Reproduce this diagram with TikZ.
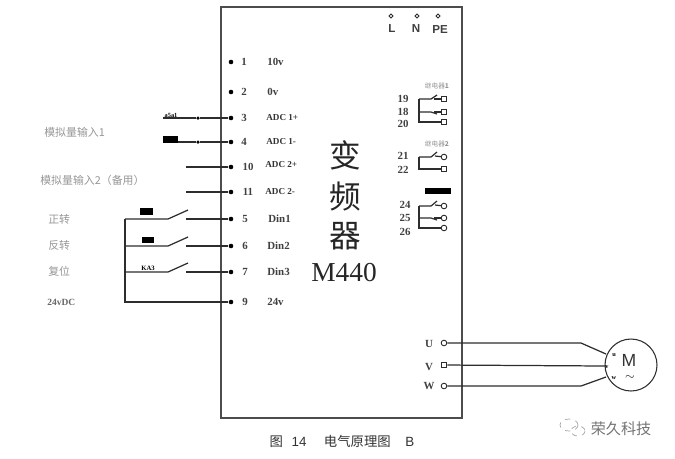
\documentclass[tikz,border=0pt]{standalone}
\usepackage{fontspec}
\setmainfont{Liberation Serif}
\setsansfont{Liberation Sans}
\newfontfamily\cjk{Noto Sans CJK SC}
\usetikzlibrary{arrows}
\definecolor{wirecolor}{RGB}{45, 45, 45}
\definecolor{labelgray}{RGB}{150, 150, 150}
\tikzset{
    wire/.style={color=wirecolor, line width=0.7pt},
    pin/.style={circle, fill=black, inner sep=0pt, minimum size=2.6pt},
    openpin/.style={rectangle, draw=wirecolor, fill=white, line width=0.5pt, inner sep=0pt, minimum size=3.2pt},
    toppin/.style={circle, draw=wirecolor, fill=white, line width=0.5pt, inner sep=0pt, minimum size=2.2pt},
    tinydot/.style={circle, fill=black, inner sep=0pt, minimum size=2pt},
    blockout/.style={fill=black, draw=none},
    termtext/.style={font=\fontsize{6.2}{7}\selectfont\bfseries, text=black!75, inner sep=0pt},
    adctext/.style={font=\fontsize{5.2}{6}\selectfont\bfseries, text=black!80, inner sep=0pt},
    sidetext/.style={font=\fontsize{6.2}{7}\selectfont\cjk, text=labelgray, inner sep=0pt}
}

\begin{document}
\begin{tikzpicture}[x=0.02cm, y=-0.02cm]
            \useasboundingbox (0,0) rectangle (675,458);
            \node[draw=black!70, line width=0.8pt, minimum width=4.82cm, minimum height=8.22cm, inner sep=0pt] (inverter) at (341.5,212.5) {};
            % control terminals on the left
            \node[pin] (p1)  at (231, 62)  {};
            \node[pin] (p2)  at (231, 92)  {};
            \node[pin] (p3)  at (231,118)  {};
            \node[pin] (p4)  at (231,142)  {};
            \node[pin] (p10) at (231,167)  {};
            \node[pin] (p11) at (231,192)  {};
            \node[pin] (p5)  at (231,219)  {};
            \node[pin] (p6)  at (231,246)  {};
            \node[pin] (p7)  at (231,272)  {};
            \node[pin] (p9)  at (231,302)  {};
            \node[termtext] (n1)  at (244, 62) {1};
            \node[termtext] (n2)  at (244, 92) {2};
            \node[termtext] (n3)  at (244,118) {3};
            \node[termtext] (n4)  at (244,142) {4};
            \node[termtext] (n10) at (248,167) {10};
            \node[termtext] (n11) at (248,192) {11};
            \node[termtext] (n5)  at (245,219) {5};
            \node[termtext] (n6)  at (245,246) {6};
            \node[termtext] (n7)  at (245,272) {7};
            \node[termtext] (n9)  at (245,302) {9};
            \node[termtext, anchor=west] (t1)  at (267, 62) {10v};
            \node[termtext, anchor=west] (t2)  at (267, 92) {0v};
            \node[adctext, anchor=west] (t3)  at (266,118) {ADC 1+};
            \node[adctext, anchor=west] (t4)  at (266,142) {ADC 1-};
            \node[adctext, anchor=west] (t10) at (265,165) {ADC 2+};
            \node[adctext, anchor=west] (t11) at (265,192) {ADC 2-};
            \node[termtext, anchor=west] (t5)  at (268,219) {Din1};
            \node[termtext, anchor=west] (t6)  at (267,246) {Din2};
            \node[termtext, anchor=west] (t7)  at (267,272) {Din3};
            \node[termtext, anchor=west] (t9)  at (267,302) {24v};
            % left side labels
            \node[sidetext, anchor=west] (ai1)  at (44,132) {模拟量输入1};
            \node[sidetext, anchor=west] (ai2)  at (40,180) {模拟量输入2（备用）};
            \node[sidetext, anchor=west] (fwd)  at (48,219) {正转};
            \node[sidetext, anchor=west] (rev)  at (48,245) {反转};
            \node[sidetext, anchor=west] (rst)  at (48,271) {复位};
            \node[termtext, anchor=west, font=\fontsize{5.4}{6}\selectfont\bfseries, text=black!60] (dc24) at (47,302) {24vDC};
            % analogue inputs
            \coordinate (a3) at (163,118);
            \coordinate (a4) at (163,142);
            \coordinate (a10) at (186,167);
            \coordinate (a11) at (186,192);
            \node[tinydot] (d3) at (198,118) {};
            \node[tinydot] (d4) at (198,142) {};
            \draw[wire] (a3) -- (d3) -- (p3);
            \draw[wire] (a4) -- (d4) -- (p4);
            \draw[wire] (a10) -- (p10);
            \draw[wire] (a11) -- (p11);
            \node[font=\fontsize{3.6}{4}\selectfont\bfseries, inner sep=0pt] (tag3) at (171,115) {a5a1};
            \node[blockout, minimum width=0.30cm, minimum height=0.14cm, inner sep=0pt] (blk4) at (170.5,139) {};
            % switches
            \coordinate (b5) at (125,219);
            \coordinate (b6) at (125,246);
            \coordinate (b7) at (125,272);
            \coordinate (b9) at (125,302);
            \coordinate (s5a) at (168,219);
            \coordinate (s5b) at (188,210);
            \coordinate (s5c) at (186,219);
            \coordinate (s6a) at (168,246);
            \coordinate (s6b) at (188,237);
            \coordinate (s6c) at (186,246);
            \coordinate (s7a) at (168,272);
            \coordinate (s7b) at (188,263);
            \coordinate (s7c) at (186,272);
            \draw[wire] (b5) -- (b9) -- (p9);
            \draw[wire] (b5) -- (s5a) -- (s5b);
            \draw[wire] (s5c) -- (p5);
            \draw[wire] (b6) -- (s6a) -- (s6b);
            \draw[wire] (s6c) -- (p6);
            \draw[wire] (b7) -- (s7a) -- (s7b);
            \draw[wire] (s7c) -- (p7);
            \node[blockout, minimum width=0.26cm, minimum height=0.14cm, inner sep=0pt] (blk5) at (146.5,211.5) {};
            \node[blockout, minimum width=0.24cm, minimum height=0.13cm, inner sep=0pt] (blk6) at (148,240) {};
            \node[font=\fontsize{3.8}{4}\selectfont\bfseries, inner sep=0pt] (tag7) at (148,268) {KA3};
            % mains terminals
            \node[toppin] (pl) at (391,16) {};
            \node[toppin] (pn) at (417,16) {};
            \node[toppin] (pe) at (438,16) {};
            \node[font=\fontsize{6.6}{7}\selectfont\sffamily\bfseries, text=black!75, inner sep=0pt] (tl) at (392,29) {L};
            \node[font=\fontsize{6.6}{7}\selectfont\sffamily\bfseries, text=black!75, inner sep=0pt] (tn) at (416,29) {N};
            \node[font=\fontsize{6.6}{7}\selectfont\sffamily\bfseries, text=black!75, inner sep=0pt] (tp) at (440,30) {PE};
            % relay 1
            \node[font=\fontsize{3.8}{4}\selectfont\cjk, text=labelgray, inner sep=0pt] (r1) at (437,86) {继电器\textbf{1}};
            \node[termtext] (n19) at (403, 99) {19};
            \node[termtext] (n18) at (403,112) {18};
            \node[termtext] (n20) at (403,124) {20};
            \node[openpin] (p19) at (444, 99) {};
            \node[openpin] (p18) at (444,112) {};
            \node[openpin] (p20) at (444,122) {};
            \coordinate (r1t) at (419, 99);
            \coordinate (r1m) at (419,112);
            \coordinate (r1b) at (419,122);
            \coordinate (r1x) at (431, 99);
            \coordinate (r1y) at (437, 95);
            \coordinate (r1z) at (434, 99);
            \coordinate (r1u) at (431,112);
            \coordinate (r1v) at (437,114);
            \coordinate (r1w) at (434,112);
            \draw[wire] (r1t) -- (r1b) -- (p20);
            \draw[wire] (r1t) -- (r1x) -- (r1y);
            \draw[wire] (r1z) -- (p19);
            \draw[wire] (r1m) -- (r1u) -- (r1v);
            \draw[wire] (r1w) -- (p18);
            % relay 2
            \node[font=\fontsize{3.8}{4}\selectfont\cjk, text=labelgray, inner sep=0pt] (r2) at (437,144) {继电器\textbf{2}};
            \node[termtext] (n21) at (403,156) {21};
            \node[termtext] (n22) at (403,170) {22};
            \node[openpin, circle] (p21) at (444,157) {};
            \node[openpin] (p22) at (444,169) {};
            \coordinate (r2t) at (419,157);
            \coordinate (r2b) at (419,169);
            \coordinate (r2x) at (431,157);
            \coordinate (r2y) at (437,152);
            \coordinate (r2z) at (435,156);
            \draw[wire] (r2t) -- (r2b) -- (p22);
            \draw[wire] (r2t) -- (r2x) -- (r2y);
            \draw[wire] (r2z) -- (p21);
            % relay 3
            \node[blockout, minimum width=0.52cm, minimum height=0.13cm, inner sep=0pt] (blk3) at (438,191) {};
            \node[termtext] (n24) at (405,205) {24};
            \node[termtext] (n25) at (405,218) {25};
            \node[termtext] (n26) at (405,232) {26};
            \node[openpin, circle] (p24) at (444,206) {};
            \node[openpin, circle] (p25) at (444,218) {};
            \node[openpin, circle] (p26) at (444,228) {};
            \coordinate (r3t) at (419,206);
            \coordinate (r3m) at (419,218);
            \coordinate (r3b) at (419,228);
            \coordinate (r3x) at (431,206);
            \coordinate (r3y) at (437,201);
            \coordinate (r3z) at (435,205);
            \coordinate (r3u) at (431,218);
            \coordinate (r3v) at (437,220);
            \coordinate (r3w) at (434,218);
            \draw[wire] (r3t) -- (r3b) -- (p26);
            \draw[wire] (r3t) -- (r3x) -- (r3y);
            \draw[wire] (r3z) -- (p24);
            \draw[wire] (r3m) -- (r3u) -- (r3v);
            \draw[wire] (r3w) -- (p25);
            % centre title
            \node[font=\fontsize{18}{19}\selectfont\cjk, text=black!85, inner sep=0pt] (title1) at (345,155) {变};
            \node[font=\fontsize{18}{19}\selectfont\cjk, text=black!85, inner sep=0pt] (title2) at (345,197) {频};
            \node[font=\fontsize{18}{19}\selectfont\cjk, text=black!85, inner sep=0pt] (title3) at (345,236) {器};
            \node[font=\fontsize{15.6}{16}\selectfont, text=black!85, inner sep=0pt] (model) at (344,273) {M440};
            % motor
            \node[openpin, circle] (pu) at (444,343) {};
            \node[openpin] (pv) at (444,365) {};
            \node[openpin, circle] (pw) at (444,386) {};
            \node[termtext] (tu) at (429,344) {U};
            \node[termtext] (tv) at (429,367) {V};
            \node[termtext] (tw) at (429,386) {W};
            \node[circle, draw=wirecolor, line width=0.6pt, minimum size=1.04cm, inner sep=0pt] (motor) at (631,365) {};
            \coordinate (ku) at (581,343);
            \coordinate (kw) at (581,386);
            \coordinate (mu) at (606,354);
            \coordinate (mv) at (606,366);
            \coordinate (mw) at (606,377);
            \draw[wire] (pu) -- (ku) -- (mu);
            \draw[wire] (pv) -- (mv);
            \draw[wire] (pw) -- (kw) -- (mw);
            \node[font=\fontsize{3.6}{4}\selectfont\bfseries, inner sep=0pt] (mtu) at (614,355) {u};
            \node[font=\fontsize{3.6}{4}\selectfont\bfseries, inner sep=0pt] (mtv) at (607,367) {v};
            \node[font=\fontsize{3.6}{4}\selectfont\bfseries, inner sep=0pt] (mtw) at (614,378) {w};
            \node[font=\fontsize{10}{11}\selectfont\sffamily, text=black!80, inner sep=0pt] (mm) at (629,360) {M};
            \node[font=\fontsize{6}{6}\selectfont\sffamily, text=black!80, inner sep=0pt] (ms) at (630,377) {$\sim$};
            % caption and mark
            \node[font=\fontsize{7.6}{9}\selectfont\cjk, text=black!80, inner sep=0pt] (caption) at (342,441) {图\hspace{0.65em}{\sffamily 14}\hspace{1.3em}电气原理图\hspace{1.1em}{\sffamily B}};
            \node[font=\fontsize{8.6}{10}\selectfont\cjk, text=black!55, inner sep=0pt] (mark) at (621,429) {荣久科技};
            \draw[black!35, dashed, line width=0.4pt] (569,425) ellipse (9 and 6);
            \draw[black!35, dashed, line width=0.4pt] (578,431) ellipse (7 and 5);
\end{tikzpicture}
\end{document}
